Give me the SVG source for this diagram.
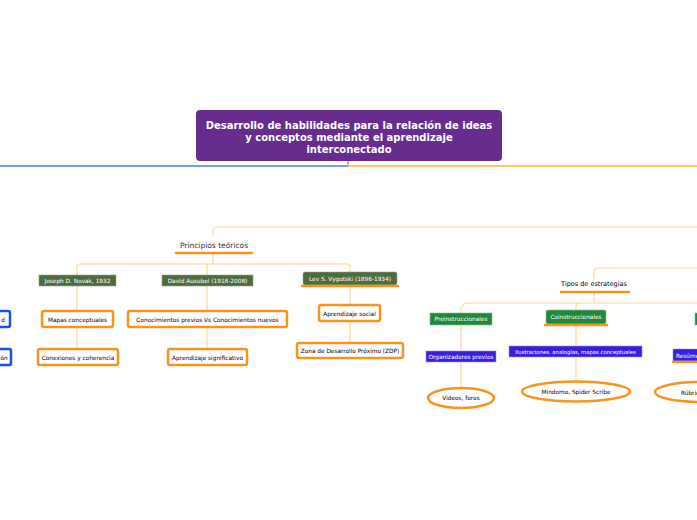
<svg xmlns="http://www.w3.org/2000/svg" width="697" height="520" viewBox="0 0 697 520">
<style>
text{font-family:"DejaVu Sans",Verdana,sans-serif;font-size:5.8px;text-anchor:middle}
.ln{fill:none;stroke:#ffd89a;stroke-width:1.2}
.gr{fill:#4f6b3d;stroke:#8fa57f;stroke-width:.6}
.gn{fill:#22893a;stroke:#7cc48a;stroke-width:.6}
.bl{fill:#3b1fd8;stroke:#9e8cf0;stroke-width:.6}
.wt{fill:#fff}
.ob{fill:#fff;stroke:#f7941d;stroke-width:2.5}
.bb{fill:#fff;stroke:#1a4ff0;stroke-width:2.5}
.ul{stroke:#f7941d;stroke-width:2.5;stroke-linecap:round}
.tt{font-size:10px;font-weight:bold;fill:#fff}
</style>
<g id="connectors">
<path d="M0 166H348" stroke="#3f7ff5" stroke-width="1.5"/>
<path d="M348 166H697" stroke="#ffb13f" stroke-width="1.5"/>
<path d="M348 161V165" stroke="#a08060" stroke-width="1.2"/>
<path class="ln" d="M213 236V231Q213 227 217 227H697"/>
<path class="ln" d="M213 253V264M77 275V267Q77 264 80 264H347Q350 264 350 267V272M207 264V275"/>
<path class="ln" d="M77 286V311M77 327V349M207 286V311M207 327V349M350 287V305M350 321V342"/>
<path class="ln" d="M594 279V272Q594 268 598 268H697"/>
<path class="ln" d="M594 292V303M461 313V308Q461 303 470 303H697M576 310V306Q576 303 580 303"/>
<path class="ln" d="M461 325V351M461 362V388M576 325V346M576 357V382"/>
</g>
<g id="root"><rect x="196" y="110" width="306" height="51" rx="4" fill="#662d8f"/>
<text x="349" y="129" class="tt">Desarrollo de habilidades para la relación de ideas</text>
<text x="349" y="141" class="tt">y conceptos mediante el aprendizaje</text>
<text x="349" y="153" class="tt">interconectado</text></g>
<g id="principios"><text x="214" y="248" style="font-size:7.5px;fill:#333">Principios teóricos</text><line class="ul" x1="176" y1="253" x2="252" y2="253"/></g>
<g id="novak"><rect class="gr" x="39" y="275" width="77" height="11"/><text x="77.5" y="283" class="wt">Joseph D. Novak, 1932</text></g>
<g id="ausubel"><rect class="gr" x="162" y="275" width="91" height="11"/><text x="207.5" y="283" class="wt">David Ausubel (1918-2008)</text></g>
<g id="vygotski"><rect class="gr" x="303" y="272" width="94" height="13" rx="2"/><text x="350" y="281" class="wt">Lev S. Vygotski (1896-1934)</text><line class="ul" x1="302" y1="286" x2="398" y2="286"/></g>
<g id="mapas"><rect class="ob" x="42" y="311" width="71" height="16" rx="2"/><text x="77.5" y="321.5">Mapas conceptuales</text></g>
<g id="conexiones"><rect class="ob" x="38" y="349" width="80" height="16" rx="2"/><text x="78" y="359.5">Conexiones y coherencia</text></g>
<g id="conocimientos"><rect class="ob" x="128" y="311" width="159" height="16" rx="2"/><text x="207.5" y="321.5">Conocimientos previos Vs Conocimientos nuevos</text></g>
<g id="significativo"><rect class="ob" x="168" y="349" width="79" height="16" rx="2"/><text x="207.5" y="359.5">Aprendizaje significativo</text></g>
<g id="social"><rect class="ob" x="319" y="305" width="61" height="16" rx="2"/><text x="349.5" y="315.5">Aprendizaje social</text></g>
<g id="zdp"><rect class="ob" x="297" y="343" width="106" height="15" rx="2"/><text x="350" y="353">Zona de Desarrollo Próximo (ZDP)</text></g>
<g id="left1"><rect class="bb" x="-20" y="311" width="30" height="16" rx="2"/><text x="3" y="321.5">d</text></g>
<g id="left2"><rect class="bb" x="-20" y="349" width="31" height="16" rx="2"/><text x="4" y="359.5">ón</text></g>
<g id="tipos"><text x="594" y="286" style="font-size:6.5px">Tipos de estrategias</text><line class="ul" x1="561" y1="292" x2="629" y2="292"/></g>
<g id="pre"><rect class="gn" x="430" y="313" width="62" height="12"/><text x="461" y="321" class="wt">Preinstruccionales</text></g>
<g id="coin"><rect class="gn" x="546" y="310" width="60" height="14" rx="2"/><text x="576" y="319" class="wt">Coinstruccionales</text><line class="ul" x1="545" y1="325" x2="607" y2="325"/></g>
<g id="post"><rect class="gn" x="695" y="313" width="10" height="12"/></g>
<g id="organizadores"><rect class="bl" x="426" y="351" width="70" height="11"/><text x="461" y="359" class="wt">Organizadores previos</text></g>
<g id="ilustraciones"><rect class="bl" x="509" y="346" width="133" height="11"/><text x="575.5" y="354" class="wt" style="font-size:5.3px">Ilustraciones. analogías, mapas conceptuales</text></g>
<g id="resumenes"><rect class="bl" x="673" y="349" width="30" height="12"/><text x="676" y="357.5" class="wt" style="text-anchor:start">Resúmenes</text><line class="ul" x1="673" y1="362" x2="697" y2="362"/></g>
<g id="videos"><ellipse class="ob" cx="461" cy="398" rx="33" ry="10"/><text x="461" y="400">Videos, foros</text></g>
<g id="mindomo"><ellipse class="ob" cx="576" cy="391.5" rx="54" ry="10"/><text x="576" y="393.5">Mindomo, Spider Scribe</text></g>
<g id="rubrica"><ellipse class="ob" cx="700" cy="392" rx="45" ry="10"/><text x="681" y="394.5" style="text-anchor:start">Rúbrica</text></g>
</svg>
